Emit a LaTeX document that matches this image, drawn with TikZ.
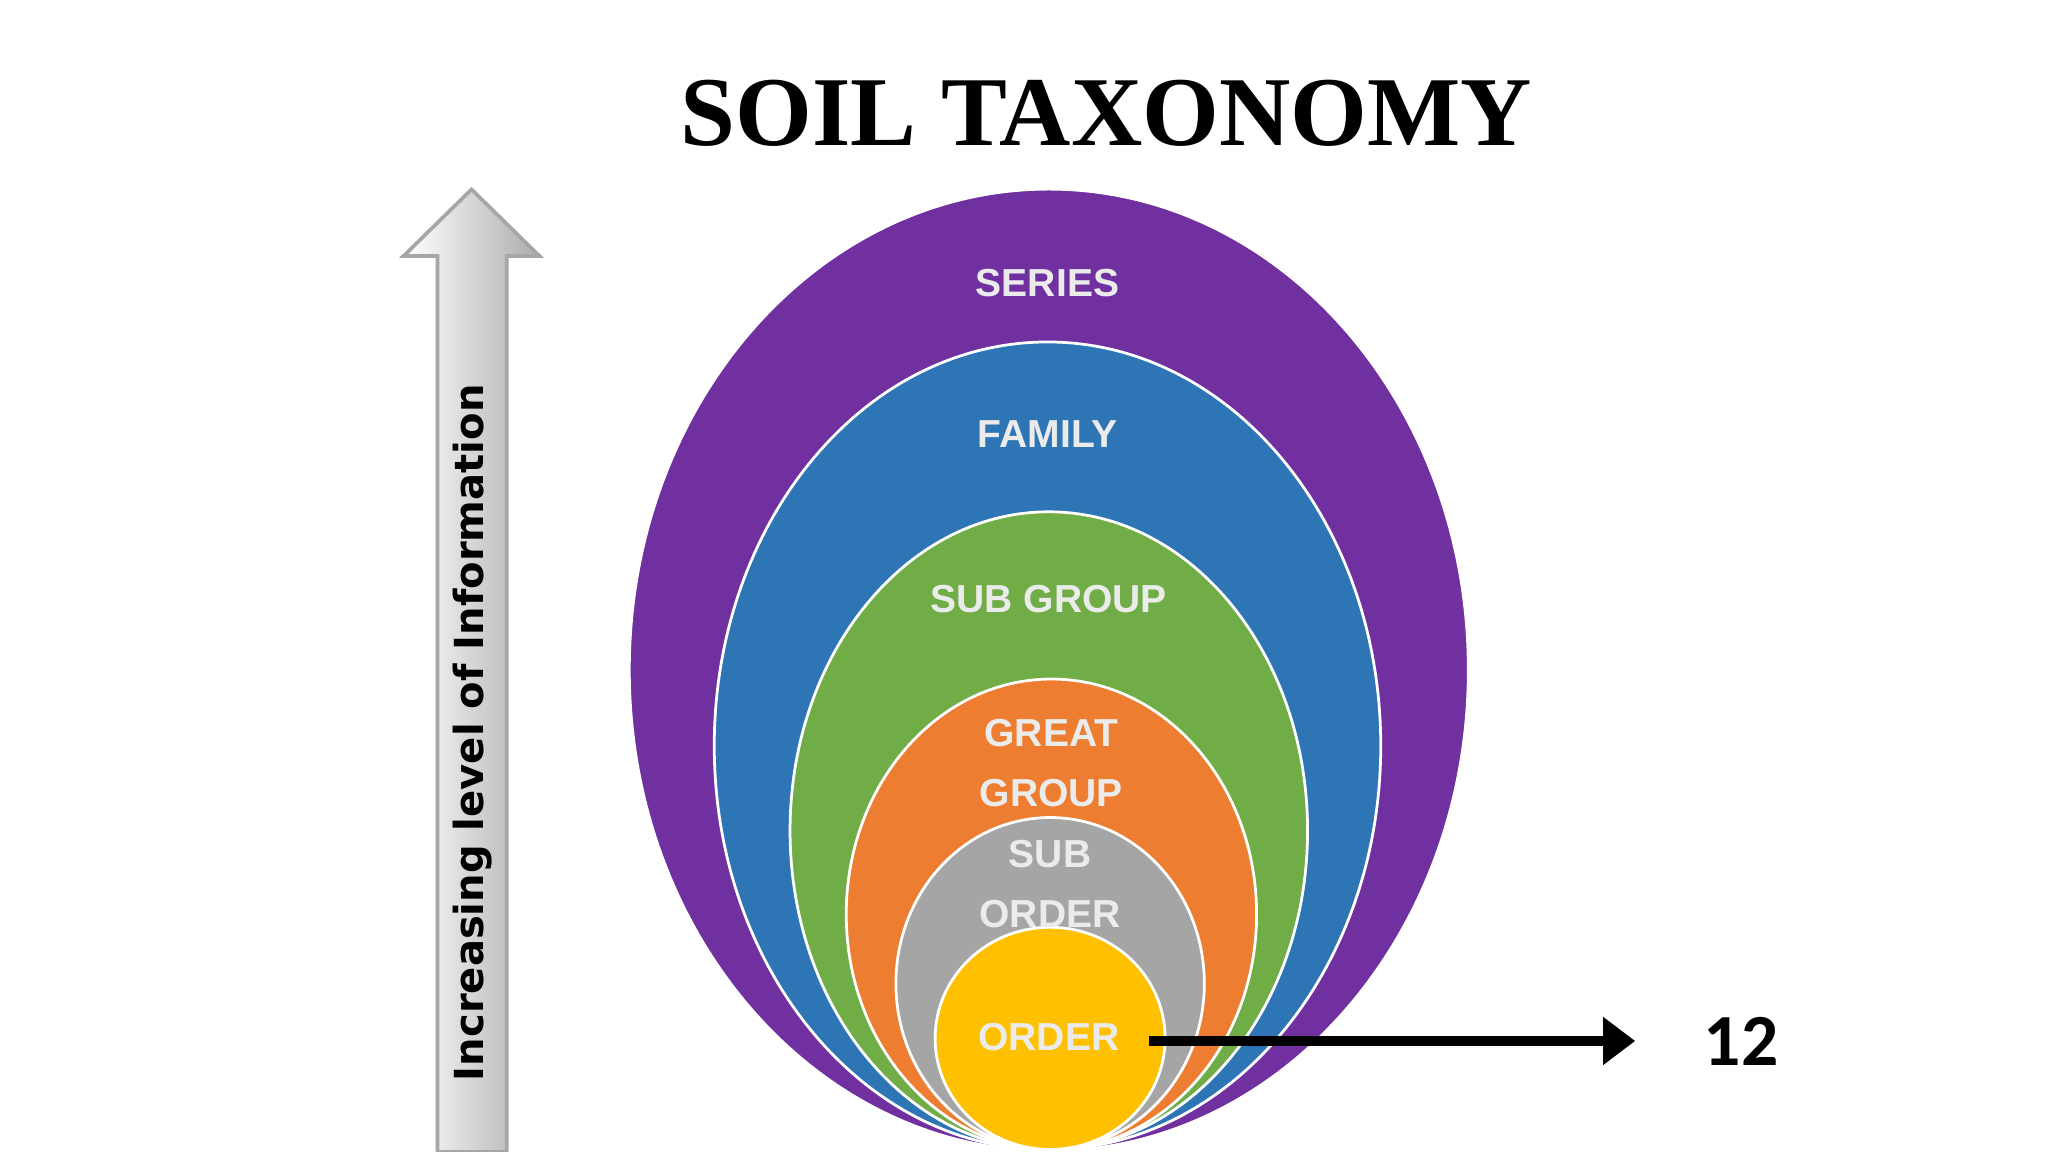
\documentclass[tikz,border=0pt]{standalone}
\usetikzlibrary{arrows.meta}
\usepackage{fontspec}
\setmainfont{Liberation Serif}
\newfontfamily\lab{Liberation Sans}
\newfontfamily\dv{DejaVu Sans}
\newfontfamily\cb{Carlito}
\definecolor{cpur}{HTML}{7030A0}
\definecolor{cblu}{HTML}{2E75B6}
\definecolor{cgrn}{HTML}{70AD47}
\definecolor{cora}{HTML}{ED7D31}
\definecolor{cgry}{HTML}{A5A5A5}
\definecolor{cyel}{HTML}{FFC000}
\begin{document}
\begin{tikzpicture}[x=0.01cm,y=-0.01cm,
  ring/.style={draw=white,line width=0.6pt},
  lbl/.style={font=\lab\bfseries\fontsize{8.5}{10}\selectfont,text=white!92!black,align=center,inner sep=0pt}]
\useasboundingbox (0,0) rectangle (1568,882);
\clip (0,0) rectangle (1568,882);
\fill[white] (0,0) rectangle (1568,882);
\node (title) at (847,87) {\bfseries\fontsize{21.5}{24}\selectfont SOIL TAXONOMY};
% arrow
\shade[left color=white,right color=gray!65,draw=gray!70,line width=0.8pt]
  (335,882) -- (335,196) -- (309,196) -- (361,145) -- (413,196) -- (388,196) -- (388,882) -- cycle;
\node[rotate=90] (vt) at (362,561) {\resizebox{5.33cm}{!}{\dv\bfseries Increasing level of Information}};
% ellipses
\fill[cpur,ring] (803,513) ellipse [x radius=3.21cm, y radius=3.68cm];
\fill[cblu,ring] (802,571) ellipse [x radius=2.55cm, y radius=3.09cm];
\fill[cgrn,ring] (803,636) ellipse [x radius=1.98cm, y radius=2.44cm];
\fill[cora,ring] (805,700) ellipse [x radius=1.57cm, y radius=1.80cm];
\fill[cgry,ring] (804,753) ellipse [x radius=1.18cm, y radius=1.27cm];
\fill[cyel,ring] (804,795) ellipse [x radius=0.88cm, y radius=0.85cm];
\node[lbl] (se) at (802,217) {SERIES};
\node[lbl] (fa) at (802,332) {FAMILY};
\node[lbl] (sg) at (803,459) {SUB GROUP};
\node[lbl,align=center] (gg) at (805,584) {GREAT\\[3pt]GROUP};
\node[lbl] (so) at (804,677) {SUB\\[3pt]ORDER};
\node[lbl] (or) at (803,794) {ORDER};
\coordinate (as) at (880,797);
\node[font=\cb\bfseries\fontsize{16}{18}\selectfont,inner sep=0pt] (n12) at (1333,797) {12};
\draw[line width=2.2pt,-{Triangle[length=7pt,width=10pt]}] (as) -- (1252,797);
\end{tikzpicture}
\end{document}
